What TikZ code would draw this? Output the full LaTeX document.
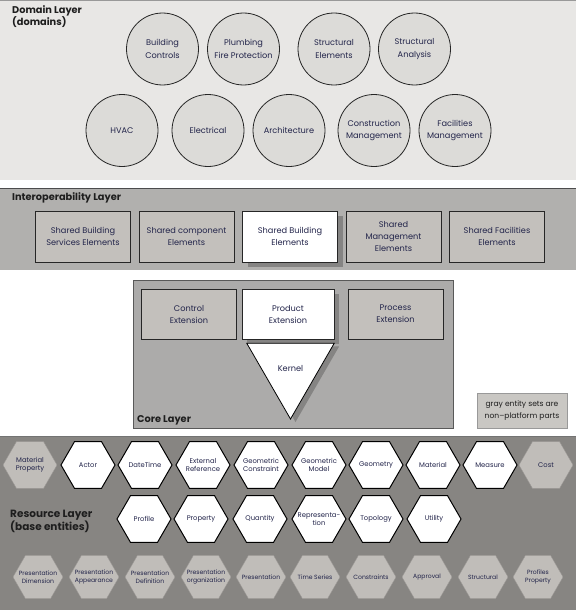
\documentclass[tikz,border=0pt]{standalone}
\usepackage{fontspec}
\setmainfont{Poppins}
\usetikzlibrary{shapes.geometric,shadows}

\definecolor{domainbg}{HTML}{E8E7E5}
\definecolor{domainfill}{HTML}{DCDBD8}
\definecolor{interbg}{HTML}{B1B0AE}
\definecolor{corebg}{HTML}{ACABAA}
\definecolor{boxgray}{HTML}{C3C0BC}
\definecolor{resbg}{HTML}{878582}
\definecolor{hexgray}{HTML}{C0BDB9}
\definecolor{shadowgray}{HTML}{858483}
\definecolor{inktext}{HTML}{22244A}
\definecolor{titletext}{HTML}{1E1E1E}

\begin{document}
\begin{tikzpicture}[x=1pt,y=-1pt]

\tikzset{
  layer title/.style={
    anchor=north west, align=left, inner sep=0pt,
    font=\fontsize{9.8}{12}\selectfont\bfseries, text=titletext,
  },
  domain node/.style={
    circle, draw=black!85, line width=0.8pt, fill=domainfill,
    minimum size=72pt, inner sep=0pt, align=center, text=inktext,
    font=\fontsize{8.2}{12.5}\selectfont,
  },
  shared box/.style={
    rectangle, draw=black!85, line width=1pt, fill=boxgray,
    minimum width=95pt, minimum height=51pt, inner sep=0pt,
    align=center, text=inktext, font=\fontsize{8.2}{12}\selectfont,
  },
  platform box/.style={
    shared box, fill=white,
    drop shadow={shadow xshift=5pt, shadow yshift=-5pt, fill=shadowgray, opacity=1},
  },
  hex node/.style={
    regular polygon, regular polygon sides=6,
    minimum size=54pt, inner sep=0pt,
  },
  hex white/.style={hex node, draw=black, line width=1pt, fill=white},
  hex gray/.style={hex node, draw=hexgray!80!black, line width=0.4pt, fill=hexgray},
  hex small/.style={hex gray, minimum size=50pt},
  hex text/.style={
    align=center, inner sep=0pt, text=inktext,
    font=\fontsize{6.8}{8.5}\selectfont,
  },
  hex tiny/.style={hex text, font=\fontsize{6.1}{7.6}\selectfont},
}

  \useasboundingbox (0,0) rectangle (576,610);

  % Layer backgrounds
  \fill[domainbg] (0,1) rectangle (576,180);
  \draw[black!40, line width=1pt] (0,1) -- (576,1);
  \fill[interbg] (0,188) rectangle (576,270);
  \draw[black!70, line width=0.8pt] (0,188) -- (576,188);
  \filldraw[corebg, draw=black!65, line width=0.6pt] (133,280) rectangle (453,428);
  \fill[resbg] (0,436) rectangle (576,610);
  \draw[black!55, line width=0.8pt] (0,436) -- (576,436);

  % Domain layer
  \node[layer title] (domtitle) at (12,5) {Domain Layer\\(domains)};

  \node[domain node] (bctrl)  at (162.5,49) {Building\\Controls};
  \node[domain node] (plumb)  at (243.5,49) {Plumbing\\Fire Protection};
  \node[domain node] (strel)  at (334,49)   {Structural\\Elements};
  \node[domain node] (stran)  at (414.5,49) {Structural\\Analysis};

  \node[domain node] (hvac)   at (122,130.5) {HVAC};
  \node[domain node] (elec)   at (208,130.5) {Electrical};
  \node[domain node] (arch)   at (289,130.5) {Architecture};
  \node[domain node] (constr) at (374,130.5) {Construction\\Management};
  \node[domain node] (facil)  at (455,130.5) {Facilities\\Management};

  % Interoperability layer
  \node[layer title] (intertitle) at (12,192) {Interoperability Layer};

  \node[shared box]   (shbldserv) at (83,236.5)    {Shared Building\\Services Elements};
  \node[shared box]   (shcomp)    at (186.5,236.5) {Shared component\\Elements};
  \node[platform box] (shbld)     at (290,236.5)   {Shared Building\\Elements};
  \node[shared box]   (shmgmt)    at (393.5,236.5) {Shared\\Management\\Elements};
  \node[shared box]   (shfacil)   at (497,236.5)   {Shared Facilities\\Elements};

  % Core layer
  \node[shared box, minimum width=95pt, minimum height=50pt]   (ctrlext) at (189,314)   {Control\\Extension};
  \node[platform box, minimum width=92pt, minimum height=50pt] (prodext) at (288,314)   {Product\\Extension};
  \node[shared box, minimum width=95pt, minimum height=50pt]   (procext) at (395.5,314) {Process\\Extension};

  \node[regular polygon, regular polygon sides=3, shape border rotate=180,
        minimum size=101pt, inner sep=0pt, draw=black, line width=0.8pt, fill=white,
        drop shadow={shadow xshift=5pt, shadow yshift=-3pt, fill=shadowgray, opacity=1},
        text=inktext, font=\fontsize{8.2}{10}\selectfont] (kernel) at (290.5,368.5) {Kernel};

  \node[layer title, anchor=south west] (coretitle) at (137,425) {Core Layer};

  \node[rectangle, draw=black!40, line width=0.5pt, fill=hexgray!85!white,
        minimum width=90pt, minimum height=35pt, inner sep=0pt, align=center,
        text=titletext, font=\fontsize{7.6}{11.5}\selectfont] (legend) at (522,410.5)
        {gray entity sets are\\non--platform parts};

  % Resource layer
  \node[layer title, font=\fontsize{10.5}{12.5}\selectfont\bfseries] (restitle) at (10,510) {Resource Layer\\(base entities)};

  % Row 1
  \node[hex gray,  label={[hex text]center:Material\\Property}]   (matprop)  at (30,465)  {};
  \node[hex white, label={[hex text]center:Actor}]                (actor)    at (88,465)  {};
  \node[hex white, label={[hex text]center:DateTime}]             (datetime) at (145,465) {};
  \node[hex white, label={[hex text]center:External\\Reference}]  (extref)   at (203,465) {};
  \node[hex white, label={[hex text]center:Geometric\\Constraint}] (geocons) at (261,465) {};
  \node[hex white, label={[hex text]center:Geometric\\Model}]     (geomodel) at (319,465) {};
  \node[hex white, label={[hex text]center:Geometry}]             (geometry) at (376,465) {};
  \node[hex white, label={[hex text]center:Material}]             (material) at (433,465) {};
  \node[hex white, label={[hex text]center:Measure}]              (measure)  at (490,465) {};
  \node[hex gray,  label={[hex text]center:Cost}]                 (cost)     at (546,465) {};

  % Row 2
  \node[hex white, label={[hex text]center:Profile}]              (profile)  at (144,519) {};
  \node[hex white, label={[hex text]center:Property}]             (property) at (201,519) {};
  \node[hex white, label={[hex text]center:Quantity}]             (quantity) at (260,519) {};
  \node[hex white, label={[hex text]center:Representa-\\tion}]    (repr)     at (319,519) {};
  \node[hex white, label={[hex text]center:Topology}]             (topology) at (376,519) {};
  \node[hex white, label={[hex text]center:Utility}]              (utility)  at (434,519) {};

  % Row 3
  \node[hex small, label={[hex tiny]center:Presentation\\Dimension}]    (presdim)  at (38,577)  {};
  \node[hex small, label={[hex tiny]center:Presentation\\Appearance}]   (presapp)  at (94,577)  {};
  \node[hex small, label={[hex tiny]center:Presentation\\Definition}]   (presdef)  at (150,577) {};
  \node[hex small, label={[hex tiny]center:Presentation\\organization}] (presorg)  at (206,577) {};
  \node[hex small, label={[hex tiny]center:Presentation}]               (pres)     at (261,577) {};
  \node[hex small, label={[hex tiny]center:Time Series}]                (timeser)  at (315,577) {};
  \node[hex small, label={[hex tiny]center:Constraints}]                (constrs)  at (371,577) {};
  \node[hex small, label={[hex tiny]center:Approval}]                   (approval) at (427,577) {};
  \node[hex small, label={[hex tiny]center:Structural}]                 (structrl) at (483,577) {};
  \node[hex small, label={[hex tiny]center:Profiles\\Property}]         (profprop) at (538,577) {};

\end{tikzpicture}
\end{document}
